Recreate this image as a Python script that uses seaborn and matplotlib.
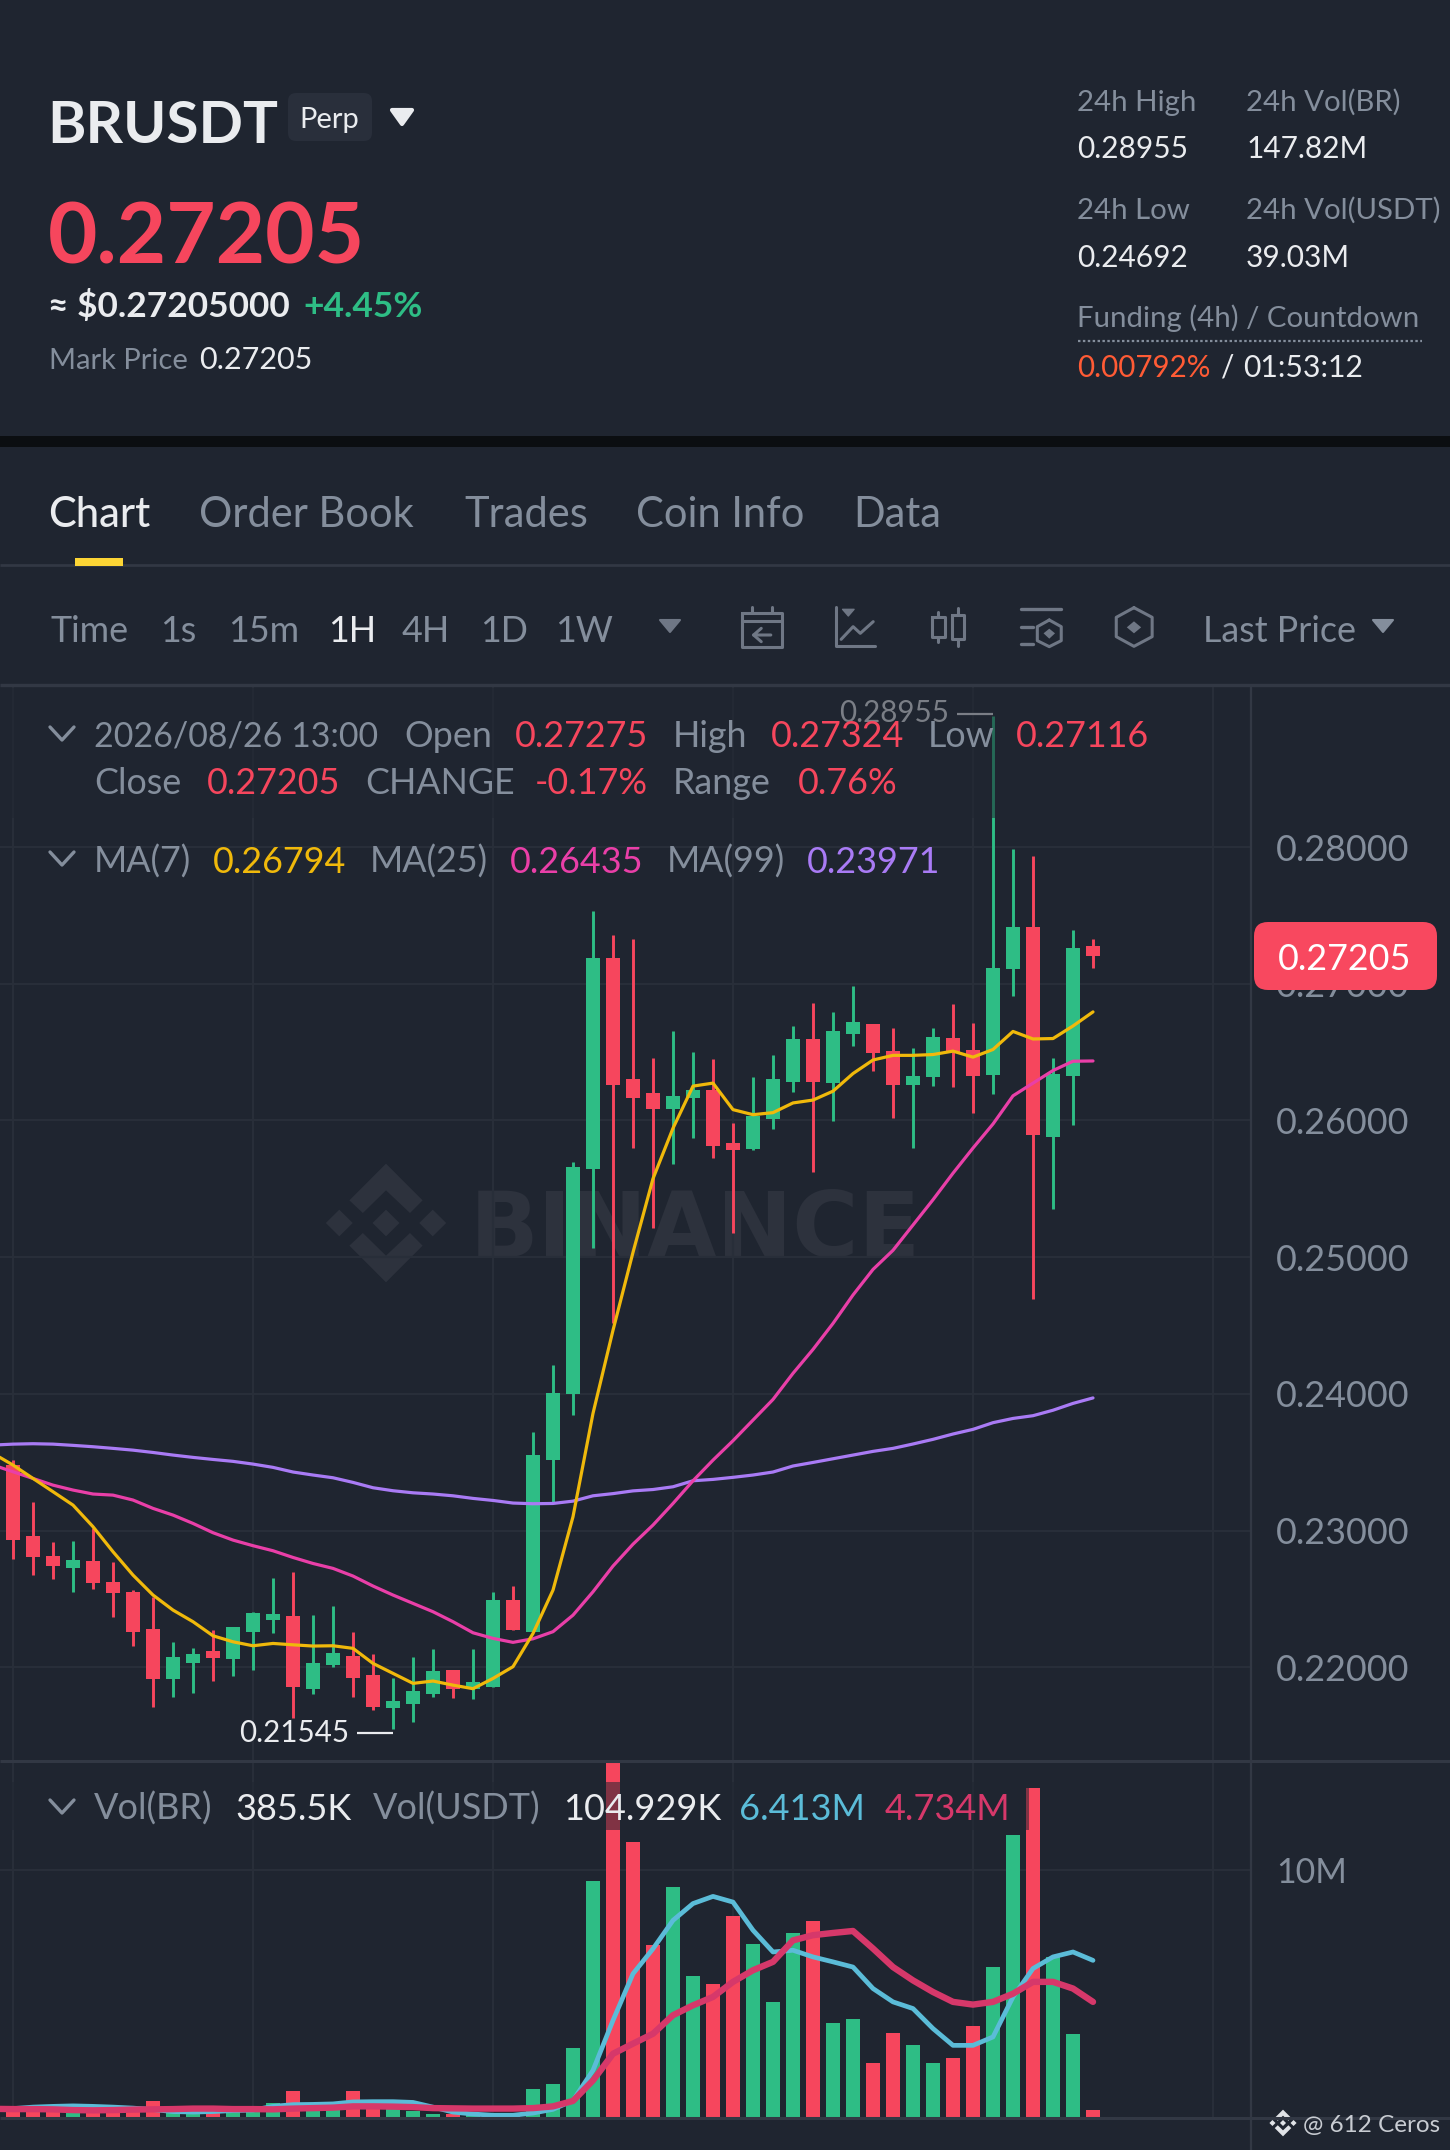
import numpy as np
import pandas as pd
import seaborn as sns
import matplotlib.pyplot as plt
from matplotlib.patches import FancyBboxPatch, Polygon, Rectangle

# candles, one hour each
candle_open = [.23479, .22962, .22813, .22723, .22776, .22623, .22547, .22279, .21913, .22028, .22116, .22057, .22257, .22345,
               .22374, .21838, .22013, .22084, .21940, .21704, .21733, .21801, .21979, .21838, .21857, .22494, .22257, .23513,
               .24001, .25644, .27190, .26300, .26199, .26085, .26162, .26223, .25835, .25792, .26011, .26282, .26599, .26276,
               .26630, .26707, .26507, .26260, .26316, .26602, .26516, .26334, .27107, .27412, .25882, .26328, .27275]
candle_close = [.22930, .22808, .22742, .22784, .22616, .22540, .22257, .21913, .22072, .22096, .22067, .22291, .22394, .22386,
                .21852, .22028, .22101, .21923, .21706, .21755, .21823, .21972, .21838, .21891, .22491, .22269, .23554, .24005,
                .25657, .27187, .26260, .26165, .26085, .26177, .26223, .25811, .25786, .26032, .26300, .26599, .26282, .26654,
                .26722, .26494, .26260, .26328, .26611, .26497, .26328, .27113, .27415, .25897, .26343, .27261, .27205]
candle_high = [.23515, .23211, .22913, .22925, .23015, .22767, .22564, .22516, .22182, .22138, .22272, .22291, .22406, .22650,
               .22694, .22381, .22447, .22257, .22094, .21918, .22077, .22130, .21979, .22130, .22547, .22594, .23720, .24210,
               .25694, .27532, .27356, .27329, .26460, .26657, .26497, .26451, .25980, .26316, .26482, .26694, .26861, .26790,
               .26981, .26707, .26676, .26528, .26676, .26851, .26713, .28955, .27984, .27935, .26460, .27396, .27324]
candle_low = [.22789, .22672, .22642, .22547, .22572, .22364, .22152, .21706, .21784, .21808, .21901, .21933, .21979, .22252,
              .21630, .21804, .21999, .21782, .21689, .21545, .21601, .21782, .21772, .21769, .21852, .22269, .22257, .23198,
              .23842, .25066, .24520, .25798, .25213, .25681, .25875, .25724, .25180, .25786, .25934, .26211, .25626, .25999,
              .26543, .26359, .26017, .25798, .26251, .26242, .26054, .26196, .26913, .24692, .25352, .25968, .27116]

# moving averages start one candle left of the visible range
ma7 = [.23564, .23479, .23381, .23284, .23186, .23028, .22845, .22674, .22528, .22418, .22333, .22230, .22186, .22157,
       .22174, .22164, .22155, .22157, .22138, .22028, .21955, .21882, .21899, .21869, .21843, .21918, .22004, .22247,
       .22564, .23101, .23857, .24465, .25035, .25574, .25943, .26251, .26273, .26079, .26042, .26057, .26128, .26149,
       .26214, .26343, .26442, .26476, .26476, .26482, .26507, .26463, .26519, .26651, .26596, .26599, .26691, .26794]
ma25 = [.23479, .23430, .23381, .23332, .23296, .23267, .23259, .23223, .23162, .23113, .23052, .22984, .22930, .22889,
        .22852, .22803, .22759, .22723, .22667, .22594, .22528, .22467, .22406, .22333, .22252, .22211, .22182, .22208,
        .22260, .22381, .22552, .2274, .2290, .2304, .23198, .23364, .23515, .23657, .23808, .23959, .24150, .24325,
        .24515, .24723, .24910, .25050, .25235, .25420, .25614, .25798, .25974, .26180, .26273, .26365, .26433, .26435]
ma99 = [.23625, .23632, .23635, .23632, .23623, .23613, .23601, .23588, .23571, .23552, .23535, .23520, .23506, .23486,
        .23462, .23428, .23406, .23386, .23352, .23313, .23291, .23276, .23267, .23254, .23235, .23220, .23201, .23196,
        .23198, .23215, .23254, .2327, .2329, .2330, .2332, .23364, .23374, .23389, .23406, .23428, .23472, .23498,
        .23525, .23552, .23579, .23601, .23633, .23667, .23706, .23740, .23789, .2382, .2384, .2388, .2393, .2397]

# volume in millions USDT
volume = [.25, .33, .33, .30, .25, .22, .22, .63, .22, .22, .25, .20, .20, .58, 1.07, .24, .27, 1.05, .31, .31, .26, .13,
          .12, .16, .05, .04, 1.15, 1.35, 2.81, 9.55, 15.0, 11.15, 6.95, 9.30, 5.69, 5.37, 8.14, 6.99, 4.64, 7.46, 7.92,
          3.81, 3.98, 2.19, 3.41, 2.90, 2.19, 2.40, 3.68, 6.07, 11.40, 13.32, 6.48, 3.37, .27]
vol_ma_fast = [.30, .34, .40, .43, .45, .43, .40, .36, .30, .22, .20, .22, .26, .28, .43, .50, .51, .53, .61, .62, .62, .59,
               .40, .20, .12, .07, .07, .16, .31, .67, 1.89, 3.91, 5.80, 6.81, 7.96, 8.64, 8.93, 8.70, 7.56, 6.68, 6.75,
               6.48, 6.28, 6.07, 5.20, 4.66, 4.39, 3.58, 2.90, 2.90, 3.24, 4.86, 6.01, 6.48, 6.68, 6.34]
vol_ma_slow = [.33, .32, .32, .31, .28, .27, .28, .30, .31, .32, .34, .34, .32, .32, .31, .34, .36, .38, .43, .43, .42, .40,
               .36, .35, .34, .34, .34, .36, .43, .65, 1.48, 2.56, 2.97, 3.37, 4.12, 4.52, 4.86, 5.47, 5.94, 6.28, 7.15,
               7.36, 7.45, 7.53, 6.82, 6.07, 5.53, 5.06, 4.66, 4.55, 4.66, 4.99, 5.47, 5.47, 5.20, 4.66]

price_ticks = [.22, .23, .24, .25, .26, .27, .28]
time_ticks = [0, 12, 24, 36, 48, 60]

BG = "#1f2530"
GRID = "#282e39"
LINE = "#323844"
RED = "#f6465d"
GREEN = "#2ebd85"
WHITE = "#eaecef"
GREY = "#848e9c"
ICON = "#6f7785"

W, H = 1450, 2150

sns.set_theme(style="dark", rc={"figure.facecolor": BG, "axes.facecolor": "none", "savefig.facecolor": BG})
plt.rcParams["font.family"] = ["Lato", "DejaVu Sans"]

df = pd.DataFrame({"i": np.arange(55), "open": candle_open, "close": candle_close,
                   "high": candle_high, "low": candle_low, "vol": volume})
df["side"] = np.where(df["close"] >= df["open"], "up", "down")
side_colors = {"up": GREEN, "down": RED}
ma_x = np.arange(-1, 55)

fig = plt.figure(figsize=(14.5, 21.5), dpi=100)


def px_axes(x0, y0, x1, y1, z):
    return fig.add_axes([x0 / W, 1 - y1 / H, (x1 - x0) / W, (y1 - y0) / H], zorder=z)


back = px_axes(0, 0, W, H, 0)
ax = px_axes(0, 686, 1251, 1761, 1)
ax_vol = px_axes(0, 1762, 1251, 2117, 1)
ov = px_axes(0, 0, W, H, 2)
for a in (back, ov):
    a.set_xlim(0, W)
    a.set_ylim(H, 0)
    a.axis("off")

# watermark, under the candles
def logo(target, cx, cy, sx, sy, color):
    pts = [(0, -178), (87, -68), (57, -30), (0, -98), (-55, -30), (-87, -68)]
    for flip in (1, -1):
        target.add_patch(Polygon([(cx + px * sx, cy + flip * py * sy) for px, py in pts], color=color, lw=0))
    for dx in (-111, 0, 111):
        target.add_patch(Polygon([(cx + (dx + ex) * sx, cy + ey * sy) for ex, ey in
                                  [(-32, 0), (0, -40), (32, 0), (0, 40)]], color=color, lw=0))


logo(back, 386, 1223, 1 / 2.376, 1 / 3, "#2d323d")
back.text(470, 1257, "BINANCE", color="#2d323d", fontsize=65, fontweight="bold", va="baseline", family="DejaVu Sans")

# price panel
ax.vlines(df["i"], df["low"], df["high"], colors=df["side"].map(side_colors), linewidth=2.1, zorder=3)
body_low = df[["open", "close"]].min(axis=1)
body_high = df[["open", "close"]].max(axis=1)
ax.bar(df["i"], body_high - body_low, bottom=body_low, width=0.7, color=df["side"].map(side_colors), linewidth=0, zorder=3)
sns.lineplot(x=ma_x, y=ma99, color="#a97bf5", linewidth=2.3, ax=ax, zorder=4)
sns.lineplot(x=ma_x, y=ma25, color="#e93fa8", linewidth=2.3, ax=ax, zorder=4)
sns.lineplot(x=ma_x, y=ma7, color="#f0b90b", linewidth=2.3, ax=ax, zorder=5)
ax.set_ylim(0.21314, 0.29178)
ax.set_yticks(price_ticks)
ax.set_yticklabels([f"{p:.5f}" for p in price_ticks])

# volume panel
sns.barplot(data=df, x="i", y="vol", hue="side", palette=side_colors, native_scale=True, dodge=False,
            width=0.7, saturation=1, legend=False, ax=ax_vol, zorder=3, linewidth=0, edgecolor="none")
sns.lineplot(x=ma_x, y=vol_ma_fast, color="#5bbcd8", linewidth=3.4, ax=ax_vol, zorder=4)
sns.lineplot(x=ma_x, y=vol_ma_slow, color="#d6386a", linewidth=4.6, ax=ax_vol, zorder=5)
ax_vol.set_ylim(0, 14.37)
ax_vol.set_yticks([10])
ax_vol.set_yticklabels(["10M"])

for a, tick_size in ((ax, 25.8), (ax_vol, 24.5)):
    a.set_xlim(-0.65, 61.9)
    a.set_xticks(time_ticks)
    a.set_xlabel("")
    a.set_ylabel("")
    a.grid(True, color=GRID, linewidth=1.5, zorder=0)
    a.set_axisbelow(True)
    a.tick_params(axis="x", length=0, labelbottom=False)
    a.tick_params(axis="y", length=0, left=False, labelleft=False, right=False, labelright=True,
                  pad=18, labelsize=tick_size, labelcolor=GREY)
    sns.despine(ax=a, left=True, right=True, top=True, bottom=True)


def txt(x, y, s, color=GREY, size=25.5, weight="normal", z=5, **kw):
    ov.text(x, y, s, color=color, fontsize=size, fontweight=weight, va="baseline", zorder=z, **kw)


def tri(x0, x1, y0, y1, color, lw=1.5):
    ov.add_patch(Polygon([(x0, y0), (x1, y0), ((x0 + x1) / 2, y1)], facecolor=color, edgecolor=color,
                         lw=lw, joinstyle="round"))


def chev(x, y):
    ov.plot([x, x + 12, x + 24], [y, y + 13, y], color=GREY, lw=2.4, solid_capstyle="round", zorder=5)


def hline(x0, x1, y, color=LINE, lw=2, z=2):
    ov.plot([x0, x1], [y, y], color=color, lw=lw, solid_capstyle="butt", zorder=z)


# header
txt(47, 143, "BRUSDT", WHITE, 42, "bold")
ov.add_patch(FancyBboxPatch((292, 97), 76, 40, boxstyle="round,pad=4,rounding_size=8", facecolor="#292f3b", lw=0))
txt(299, 128, "Perp", WHITE, 21)
tri(392, 412, 110, 124, WHITE, 3)
txt(48, 264, "0.27205", RED, 61.5, "bold")
txt(48, 317, "≈ $0.27205000", WHITE, 25.4, "bold")
txt(303, 317, "+4.45%", GREEN, 25.5, "bold")
txt(49, 369, "Mark Price", GREY, 21)
txt(199, 369, "0.27205", WHITE, 22)

txt(1077, 111, "24h High", GREY, 21.2)
txt(1246, 111, "24h Vol(BR)", GREY, 21.2)
txt(1077, 158, "0.28955", WHITE, 21.5)
txt(1247, 158, "147.82M", WHITE, 21.5)
txt(1077, 219, "24h Low", GREY, 21.2)
txt(1246, 219, "24h Vol(USDT)", GREY, 21.2)
txt(1077, 267, "0.24692", WHITE, 21.5)
txt(1246, 267, "39.03M", WHITE, 21.5)
txt(1077, 327, "Funding (4h) / Countdown", GREY, 21.2)
ov.plot([1078, 1422], [341, 341], color=GREY, lw=1.6, linestyle=(0, (1.1, 1.1)))
txt(1077, 377, "0.00792%", "#ff5b35", 21.3)
txt(1221, 377, "/", WHITE, 21.3)
txt(1243, 377, "01:53:12", WHITE, 21.7)

# black band and tabs
ov.add_patch(Rectangle((0, 436), W, 11, color="#0b0e11", lw=0))
tabs = ["Chart", "Order Book", "Trades", "Coin Info", "Data"]
tab_x = [48, 199, 464, 636, 853]
for name, x in zip(tabs, tab_x):
    txt(x, 527, name, WHITE if name == "Chart" else GREY, 30, "medium" if name == "Chart" else "normal")
hline(0, W, 565)
ov.add_patch(Rectangle((75, 558), 48, 8, color="#fcd535", lw=0, zorder=3))

# toolbar
intervals = ["Time", "1s", "15m", "1H", "4H", "1D", "1W"]
interval_x = [51, 160, 228, 328, 402, 480, 555]
for name, x in zip(intervals, interval_x):
    txt(x, 642, name, WHITE if name == "1H" else GREY, 25.8)
tri(660, 680, 620, 632, ICON)
txt(1203, 642, "Last Price", GREY, 25.8)
tri(1373, 1393, 620, 632, GREY)
hline(0, W, 685, lw=2.4)


def zx(z):
    return 700 + z / 2.09


def zy(z):
    return 580 + z / 3


def icon(xs, ys, lw=2.2):
    ov.plot([zx(v) for v in xs], [zy(v) for v in ys], color=ICON, lw=lw, solid_capstyle="round", solid_joinstyle="round")


icon([88, 172, 172, 88, 88], [98, 98, 200, 200, 98])
icon([88, 172], [123, 123])
icon([108, 108], [80, 98])
icon([150, 150], [80, 98])
icon([148, 112, 128], [165, 165, 145])
icon([112, 128], [165, 185])
icon([285, 285, 365], [80, 198, 198])
icon([295, 320, 335, 362], [178, 140, 160, 125])
tri(zx(298), zx(322), zy(88), zy(108), ICON, 1)
icon([484, 512, 512, 484, 484], [112, 112, 170, 170, 112])
icon([497, 497], [95, 112])
icon([497, 497], [170, 186])
icon([526, 552, 552, 526, 526], [105, 105, 178, 178, 105])
icon([539, 539], [85, 105])
icon([539, 539], [178, 197])
icon([670, 755], [87, 87], 2.4)
icon([670, 695], [142, 142], 2.4)
icon([670, 695], [193, 193], 2.4)
icon([730, 755, 755, 730, 705, 705, 730], [120, 140, 182, 200, 182, 140, 120])
ov.add_patch(Polygon([(zx(730), zy(146)), (zx(742), zy(160)), (zx(730), zy(176)), (zx(718), zy(160))], color=ICON, lw=0))
icon([907, 945, 945, 907, 870, 870, 907], [83, 112, 170, 199, 170, 112, 83])
ov.add_patch(Polygon([(zx(907), zy(124)), (zx(922), zy(142)), (zx(907), zy(160)), (zx(892), zy(142))], color=ICON, lw=0))

# legend rows of the price panel, the high label sits under the dim box
txt(839, 722, "0.28955", WHITE, 21.3, z=3)
hline(957, 993, 714, WHITE, 1.6, z=3)
ov.add_patch(Rectangle((0, 688), 1150, 130, color=BG, alpha=0.55, lw=0, zorder=4))
chev(50, 727)
row_one = [(94, "2026/08/26 13:00", GREY), (404, "Open", GREY), (515, "0.27275", RED), (673, "High", GREY),
           (771, "0.27324", RED), (928, "Low", GREY), (1016, "0.27116", RED)]
row_two = [(94, "Close", GREY), (207, "0.27205", RED), (365, "CHANGE", GREY), (535, "-0.17%", RED),
           (673, "Range", GREY), (798, "0.76%", RED)]
row_ma = [(94, "MA(7)", GREY), (213, "0.26794", "#f0b90b"), (370, "MA(25)", GREY), (510, "0.26435", "#e93fa8"),
          (667, "MA(99)", GREY), (807, "0.23971", "#a97bf5")]
for x, s, c in row_one:
    txt(x, 747, s, c, 24.5 if s.startswith("2026") else 25.8)
for x, s, c in row_two:
    txt(x, 794, s, c, 25.8)
chev(50, 852)
for x, s, c in row_ma:
    txt(x, 873, s, c, 25.8)

txt(239, 1742, "0.21545", WHITE, 21.3)
hline(357, 393, 1733, WHITE, 1.6)

# last price tag
ov.add_patch(FancyBboxPatch((1262, 930), 167, 52, boxstyle="round,pad=8,rounding_size=14", facecolor="#f8485f", lw=0))
ov.text(1345, 956, "0.27205", color="white", fontsize=25.8, ha="center", va="center_baseline")

# panel dividers
ov.plot([1251, 1251], [686, H], color=LINE, lw=1.6)
hline(0, W, 1761, LINE, 2.2)
hline(0, W, 2118, LINE, 2.2)

# volume legend
ov.add_patch(Rectangle((0, 1782), 1029, 48, color=BG, alpha=0.55, lw=0, zorder=4))
chev(50, 1800)
row_vol = [(94, "Vol(BR)", GREY), (235, "385.5K", WHITE), (373, "Vol(USDT)", GREY), (563, "104.929K", WHITE),
           (739, "6.413M", "#5bbcd8"), (885, "4.734M", "#d6386a")]
for x, s, c in row_vol:
    txt(x, 1820, s, c, 26)

# credit
logo(ov, 1283, 2123, 0.095, 0.075, "#e0e3e7")
txt(1303, 2132, "@ 612 Ceros", "#c8ccd2", 17.5)

fig.savefig("out.png", dpi=100)
